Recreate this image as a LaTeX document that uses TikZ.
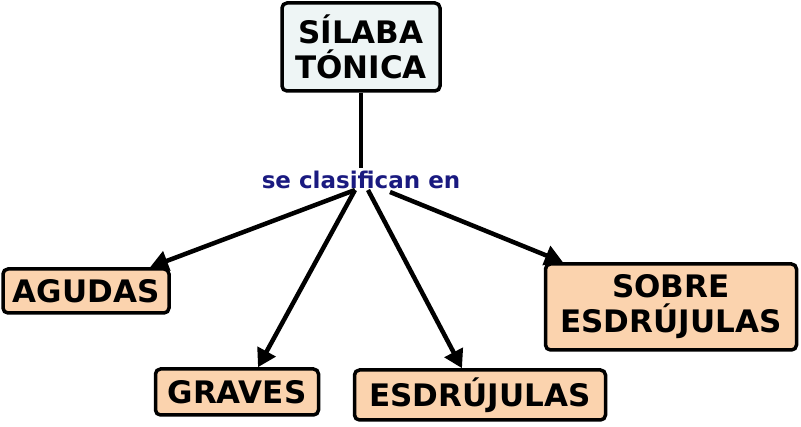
\documentclass[tikz,border=0pt]{standalone}
\usepackage{fontspec}
\setmainfont{DejaVu Sans}
\usetikzlibrary{arrows.meta}
\definecolor{peach}{HTML}{FBD3AE}
\definecolor{topf}{HTML}{EEF5F5}
\definecolor{navy}{HTML}{1A1A80}
\begin{document}
\begin{tikzpicture}[x=1pt,y=-1pt,
 box/.style={draw=black,line width=3.5pt,rounded corners=5pt,fill=peach,font=\bfseries\fontsize{31}{35}\selectfont,align=center,inner sep=0pt},
 arr/.style={line width=4.5pt,-{Triangle[length=18pt,width=20pt]}}]
\useasboundingbox (0,0) rectangle (801,427);
\node[box,fill=topf,minimum width=158pt,minimum height=88pt] (top) at (361,47) {SÍLABA\\TÓNICA};
\node[font=\bfseries\fontsize{23}{26}\selectfont,text=navy] (lab) at (361,180) {se clasifican en};
\node[box,minimum width=166pt,minimum height=44pt] (ag) at (86,291) {AGUDAS};
\node[box,minimum width=163pt,minimum height=46pt] (gr) at (237,392) {GRAVES};
\node[box,minimum width=251pt,minimum height=50pt] (es) at (480,395) {ESDRÚJULAS};
\node[box,minimum width=251pt,minimum height=86pt] (so) at (671,307) {SOBRE\\ESDRÚJULAS};
\draw[line width=4.5pt] (top.south) -- (lab.north -| top.south);
\coordinate (a1) at (355,190);
\coordinate (a2) at (368,190);
\coordinate (a3) at (390,192);
\draw[arr] (a1) -- (ag.north -| 150,0);
\draw[arr] (a1) -- (gr.north -| 258,0);
\draw[arr] (a2) -- (es.north -| 462,0);
\draw[arr] (a3) -- (so.north -| 563,0);
\end{tikzpicture}
\end{document}
